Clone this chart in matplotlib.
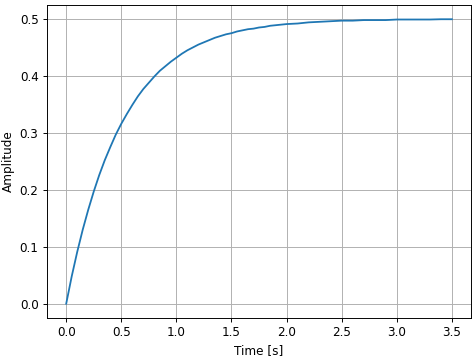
import matplotlib
matplotlib.use("Agg")
import matplotlib.pyplot as plt

# step response values
time_s = [0.0, 0.05, 0.1, 0.15, 0.2, 0.25, 0.3, 0.35, 0.4, 0.45,
          0.5, 0.55, 0.6, 0.65, 0.7, 0.75, 0.8, 0.85, 0.9, 0.95,
          1.0, 1.05, 1.1, 1.15, 1.2, 1.25, 1.3, 1.35, 1.4, 1.45,
          1.5, 1.55, 1.6, 1.65, 1.7, 1.75, 1.8, 1.85, 1.9,
          2.0, 2.1, 2.2, 2.3, 2.4, 2.5, 2.6, 2.7, 2.8, 2.9,
          3.0, 3.1, 3.2, 3.3, 3.4, 3.5]
amplitude = [0.000, 0.048, 0.091, 0.130, 0.165, 0.197, 0.226, 0.252, 0.275, 0.297,
             0.316, 0.333, 0.349, 0.364, 0.377, 0.388, 0.399, 0.409, 0.417, 0.425,
             0.432, 0.439, 0.445, 0.450, 0.455, 0.459, 0.463, 0.467, 0.470, 0.473,
             0.475, 0.478, 0.480, 0.482, 0.483, 0.485, 0.486, 0.488, 0.489,
             0.491, 0.492, 0.494, 0.495, 0.496, 0.497, 0.497, 0.498, 0.498, 0.498,
             0.499, 0.499, 0.499, 0.499, 0.4995, 0.4995]

DPI = 86
fig, ax = plt.subplots(figsize=(474 / DPI, 358 / DPI), dpi=DPI)
ax.plot(time_s, amplitude, color="#1f77b4", lw=1.5)
ax.set_xlabel("Time [s]")
ax.set_ylabel("Amplitude")
ax.grid(True)
fig.subplots_adjust(left=0.099, right=0.994, top=0.986, bottom=0.112)
fig.savefig("out.png", dpi=DPI)
